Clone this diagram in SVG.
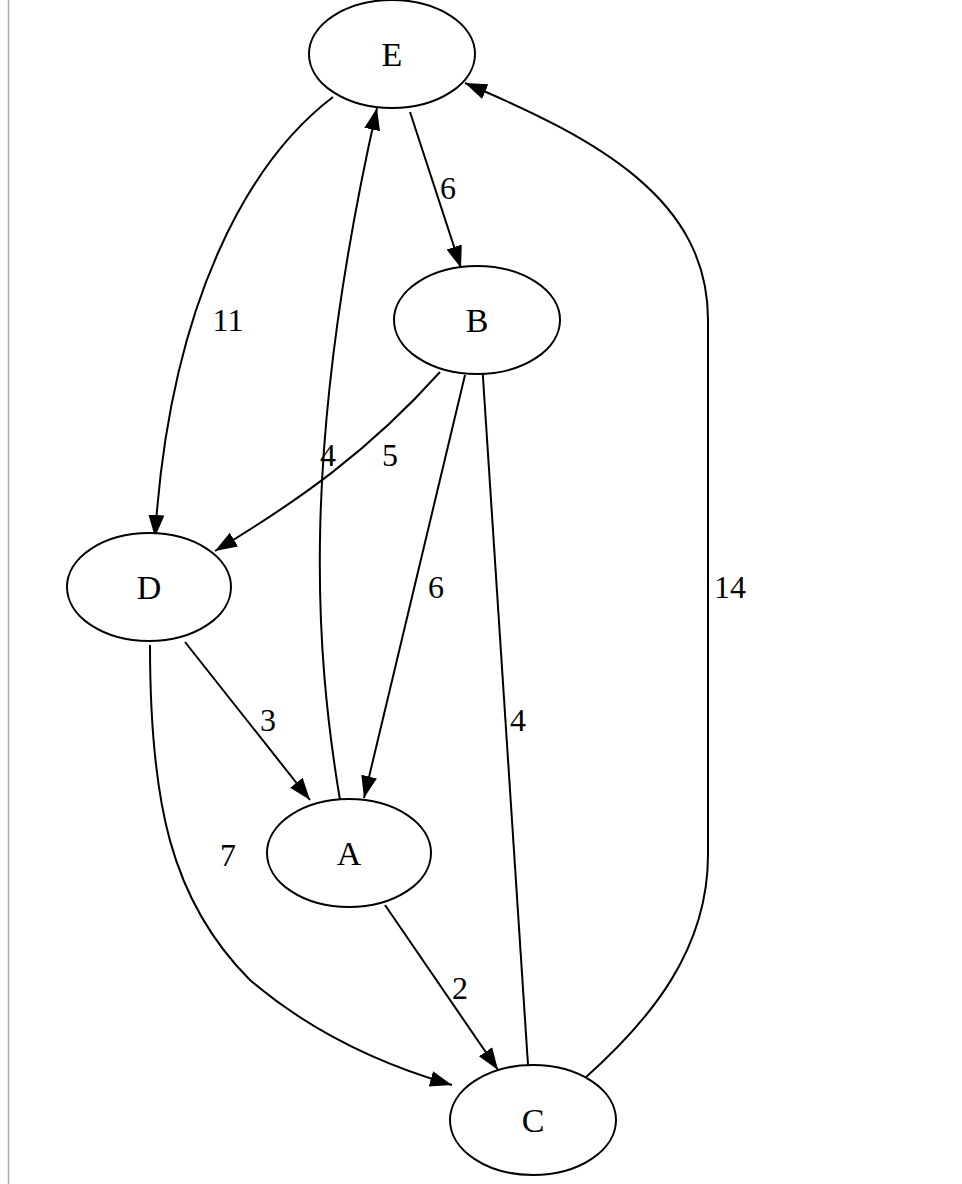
<svg xmlns="http://www.w3.org/2000/svg" width="962" height="1184" viewBox="0 0 962 1184">
<style>
.n{fill:#fff;stroke:#000;stroke-width:2}
.t{font-family:"Liberation Serif",serif;font-size:34px;text-anchor:middle;fill:#000}
.e{fill:none;stroke:#000;stroke-width:2;marker-end:url(#ah)}
.l{font-family:"Liberation Serif",serif;font-size:32px;text-anchor:middle;fill:#000}
</style>
<defs><marker id="ah" markerUnits="userSpaceOnUse" markerWidth="24" markerHeight="20" refX="22" refY="10" orient="auto"><path d="M0,2 L22,10 L0,18 Z" fill="#000"/></marker></defs>
<rect width="962" height="1184" fill="#fff"/>
<line x1="8.5" y1="0" x2="8.5" y2="1184" stroke="#aaa" stroke-width="1.5"/>
<g id="edges">
<path class="e" d="M333,97 C250,160 170,300 155,537"/>
<path class="e" d="M340,800 C315,650 300,450 377,108"/>
<path class="e" d="M410,112 L461,268"/>
<path class="e" d="M440,372 C370,450 300,500 215,551"/>
<path class="e" d="M465,375 L364,798"/>
<path class="e" d="M528,1065 L481,347"/>
<path class="e" d="M585,1078 C650,1020 708,950 708,855 L708,320 C708,200 600,140 465,83"/>
<path class="e" d="M185,642 L310,800"/>
<path class="e" d="M150,645 C150,800 170,900 250,980 C320,1040 400,1070 452,1085"/>
<path class="e" d="M385,905 L498,1070"/>
<text class="l" x="228" y="331">11</text>
<text class="l" x="328" y="466">4</text>
<text class="l" x="448" y="199">6</text>
<text class="l" x="390" y="466">5</text>
<text class="l" x="436" y="598">6</text>
<text class="l" x="518" y="731">4</text>
<text class="l" x="730" y="598">14</text>
<text class="l" x="268" y="731">3</text>
<text class="l" x="228" y="866">7</text>
<text class="l" x="460" y="999">2</text>
</g>
<g id="E"><ellipse class="n" cx="392" cy="54" rx="83" ry="54"/><text class="t" x="392" y="66">E</text></g>
<g id="B"><ellipse class="n" cx="477" cy="320" rx="83" ry="54"/><text class="t" x="477" y="332">B</text></g>
<g id="D"><ellipse class="n" cx="149" cy="587" rx="82" ry="54"/><text class="t" x="149" y="599">D</text></g>
<g id="A"><ellipse class="n" cx="349" cy="853" rx="82" ry="54"/><text class="t" x="349" y="865">A</text></g>
<g id="C"><ellipse class="n" cx="533" cy="1120" rx="83" ry="55"/><text class="t" x="533" y="1132">C</text></g>
</svg>
